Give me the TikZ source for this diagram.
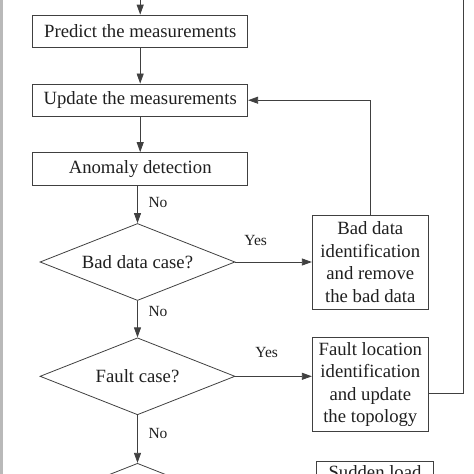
\documentclass[tikz,border=0pt]{standalone}
\usepackage{fontspec}
\setmainfont{Liberation Serif}
\usetikzlibrary{positioning}
\usetikzlibrary{calc}
\usetikzlibrary{arrows.meta}
\usetikzlibrary{shapes.geometric}
\tikzset{
	every node/.style={align=center,text=black!88},
	stepbox/.style={draw=black!75,line width=0.8pt,rectangle,minimum width=215pt,minimum height=32.5pt,inner sep=0pt,font=\fontsize{18.7}{22.4}\selectfont},
	actionbox/.style={stepbox,minimum width=116pt,minimum height=94pt},
	decision/.style={draw=black!75,line width=0.8pt,diamond,shape aspect=2.5,minimum width=195pt,minimum height=77pt,inner sep=0pt,font=\fontsize{18.7}{22.4}\selectfont},
	answer/.style={font=\fontsize{15.5}{18}\selectfont},
	flow/.style={draw=black!75,line width=0.8pt,-{Triangle[length=10pt,width=7pt]}},
}

\begin{document}
\begin{tikzpicture}[x=1pt,y=-1pt]
			\useasboundingbox (0,0) rectangle (474,474);
			\clip (0,0) rectangle (474,474);
			
			% left edge line.....................
			\coordinate (edgetop) at (1.3,0);
			\coordinate (edgebot) at (1.3,474);
			\draw [gray!55,line width=2.6pt] (edgetop) to (edgebot);
			
			% boxes......................
			\node [stepbox] (predict) at (140.2,31.3) {Predict the measurements};
			\node [stepbox] (update) at (140.2,100.2) {Update the measurements};
			\node [stepbox] (anomaly) at (140.2,168.8) {Anomaly detection};
			
			% decisions...................
			\node [decision] (badcase) at (137.5,262) {Bad data case?};
			\node [decision] (faultcase) at (137.5,376.3) {Fault case?};
			\node [decision] (loadcase) at (137.5,501.8) {};
			
			% actions....................
			\node [actionbox] (badbox) at (370.3,262) {Bad data\\identification\\and remove\\the bad data};
			\node [actionbox] (faultbox) at (370.3,384.5) {Fault location\\identification\\and update\\the topology};
			\node [actionbox,minimum width=116.7pt,minimum height=0pt,anchor=north,text height=17pt,text depth=78pt,inner ysep=0pt] (loadbox) at (375,460.7) {Sudden load};
			
			% main flow...................
			\coordinate (entry) at (140.2,0);
			\draw [flow] (entry) to (predict);
			\draw [flow] (predict) to (update);
			\draw [flow] (update) to (anomaly);
			\draw [flow] (badcase.north |- anomaly.south) to (badcase.north);
			\draw [flow] (badcase) to (faultcase);
			\draw [flow] (faultcase) to (loadcase);
			
			% yes branches.............
			\draw [flow] (badcase.east) to (badbox.west);
			\draw [flow] (faultcase.east) to (faultcase.east -| faultbox.west);
			
			% loops back.......................
			\draw [flow] (badbox.north) |- (update.east);
			\coordinate (loopend) at (463.3,0);
			\draw [draw=black!75,line width=0.8pt] ([yshift=-8.8pt]faultbox.east) -| (loopend);
			
			% labels.......................
			\node [answer] (no1) at (158,202) {No};
			\node [answer] (no2) at (158,311.7) {No};
			\node [answer] (no3) at (158,433.3) {No};
			\node [answer] (yes1) at (255.7,240) {Yes};
			\node [answer] (yes2) at (266.7,352.7) {Yes};
			
		\end{tikzpicture}
\end{document}
